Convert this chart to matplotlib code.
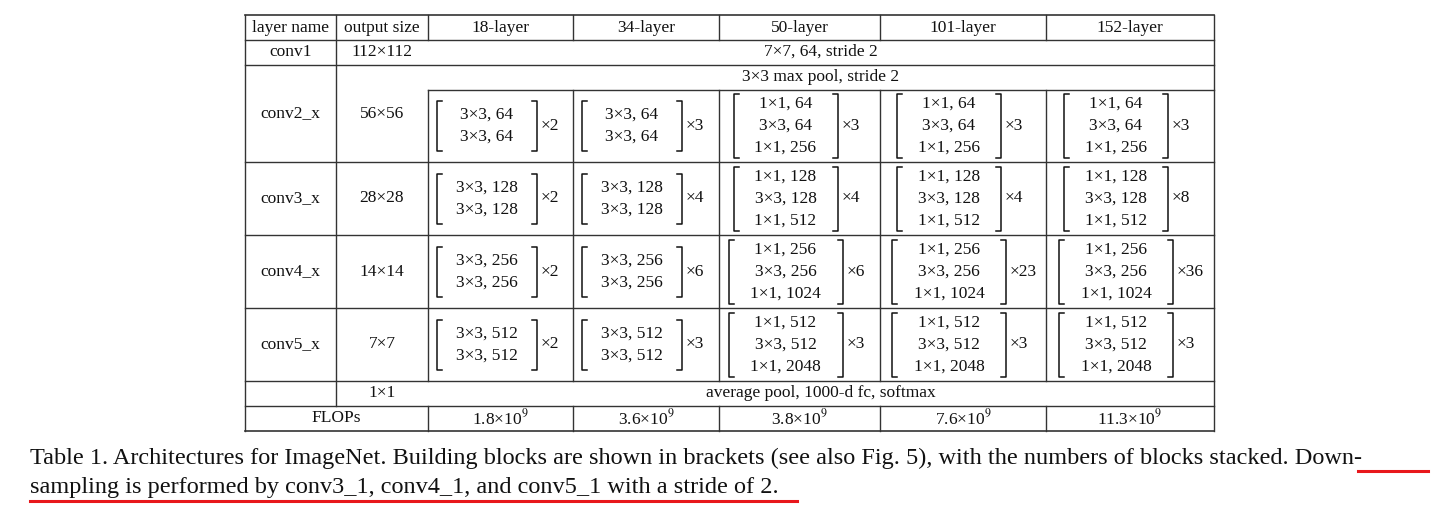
import matplotlib.pyplot as plt
import matplotlib
matplotlib.use("Agg")

plt.rcParams['font.family'] = ['Liberation Serif', 'DejaVu Serif']
plt.rcParams['mathtext.fontset'] = 'stix'

# table content
headers = ["layer name", "output size", "18-layer", "34-layer", "50-layer", "101-layer", "152-layer"]
layer_names = ["conv2_x", "conv3_x", "conv4_x", "conv5_x"]
out_sizes = ["56\u00d756", "28\u00d728", "14\u00d714", "7\u00d77"]
widths = [64, 128, 256, 512]
basic_reps = {"18": [2, 2, 2, 2], "34": [3, 4, 6, 3]}
bottle_reps = {"50": [3, 4, 6, 3], "101": [3, 4, 23, 3], "152": [3, 8, 36, 3]}
flops = ["1.8", "3.6", "3.8", "7.6", "11.3"]
caption1 = ("Table 1. Architectures for ImageNet. Building blocks are shown in brackets (see also Fig. 5), "
            "with the numbers of blocks stacked. Down-")
caption2 = "sampling is performed by conv3_1, conv4_1, and conv5_1 with a stride of 2."

# layout (pixels)
cols = [245, 336, 428, 573, 719, 880, 1046, 1214]
rows = [15, 40, 65, 90, 162, 235, 308, 381, 406, 431]
fs = 12.5
lc = '#333333'

fig = plt.figure(figsize=(14.4, 5.08), dpi=100)
ax = fig.add_axes([0, 0, 1, 1])
ax.set_xlim(0, 1440)
ax.set_ylim(508, 0)
ax.axis('off')

def hl(y, x0=cols[0], x1=cols[-1], lw=1.0):
    ax.plot([x0, x1], [y, y], color=lc, lw=lw)

def vl(x, y0, y1):
    ax.plot([x, x], [y0, y1], color=lc, lw=1.0)

def txt(x, y, s, size=fs, ha='center'):
    ax.text(x, y, s, ha=ha, va='center', fontsize=size, color='#111111')

# horizontal lines
for i, y in enumerate(rows):
    if y == 90:
        hl(y, cols[2], cols[-1])
    else:
        hl(y, lw=1.2 if i in (0, len(rows) - 1) else 1.0)

# vertical lines
for x in [cols[0], cols[-1]]:
    vl(x, rows[0], rows[-1])
vl(cols[1], rows[0], rows[8])
for x in cols[2:-1]:
    vl(x, rows[0], rows[1])
    vl(x, rows[3], rows[7])
    vl(x, rows[8], rows[9])

cx = [(cols[i] + cols[i + 1]) / 2 for i in range(len(cols) - 1)]
for i, h in enumerate(headers):
    txt(cx[i], (rows[0] + rows[1]) / 2, h)

txt(cx[0], 52, "conv1")
txt(cx[1], 52, "112\u00d7112")
full = (cols[2] + cols[-1]) / 2
txt(full, 52, "7\u00d77, 64, stride 2")
txt(full, 77, "3\u00d73 max pool, stride 2")

def block(c, yc, lines, rep, half):
    x = cx[c] - 14
    n = len(lines)
    gap = 22
    for k, s in enumerate(lines):
        txt(x, yc + (k - (n - 1) / 2) * gap, s)
    ext = n * gap / 2 + (3 if n == 2 else -1)
    top, bot = yc - ext, yc + ext
    xl, xr = x - half, x + half
    ax.plot([xl + 5, xl, xl, xl + 5], [top, top, bot, bot], color='#111111', lw=1.1)
    ax.plot([xr - 5, xr, xr, xr - 5], [top, top, bot, bot], color='#111111', lw=1.1)
    txt(xr + 4, yc, "\u00d7%d" % rep, ha='left')

for r in range(4):
    y0 = rows[3 + r]
    y1 = rows[4 + r]
    yc = (y0 + y1) / 2
    ym = ((rows[2] if r == 0 else y0) + y1) / 2
    txt(cx[0], ym, layer_names[r])
    txt(cx[1], ym, out_sizes[r])
    w = widths[r]
    two = ["3\u00d73, %d" % w, "3\u00d73, %d" % w]
    block(2, yc, two, basic_reps["18"][r], 50)
    block(3, yc, two, basic_reps["34"][r], 50)
    three = ["1\u00d71, %d" % w, "3\u00d73, %d" % w, "1\u00d71, %d" % (4 * w)]
    for c, k in zip([4, 5, 6], ["50", "101", "152"]):
        block(c, yc, three, bottle_reps[k][r], 52 if w < 256 else 57)

txt(cx[1], 393, "1\u00d71")
txt(full, 393, "average pool, 1000-d fc, softmax")
txt((cols[0] + cols[2]) / 2, 418, "FLOPs")
for i, f in enumerate(flops):
    txt(cx[2 + i], 418, f + "\u00d710$^{9}$")

# caption
cs = 17.5
ax.text(30, 458, caption1, ha='left', va='center', fontsize=cs, color='#111111')
ax.text(30, 488, caption2, ha='left', va='center', fontsize=cs, color='#111111')
ax.plot([1358, 1428], [471, 471], color='#e8171c', lw=2.2)
ax.plot([30, 797], [501, 501], color='#e8171c', lw=2.2)

fig.savefig("out.png", dpi=100)
